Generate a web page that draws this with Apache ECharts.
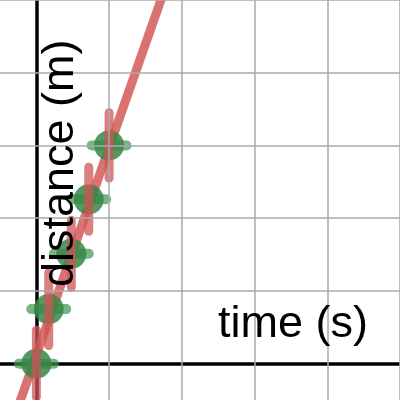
<!DOCTYPE html>
<html><head><meta charset="utf-8">
<script src="https://cdn.jsdelivr.net/npm/echarts@6/dist/echarts.min.js"></script>
<style>html,body{margin:0;padding:0}#c{width:400px;height:400px}</style>
</head><body><div id="c"></div>
<script>
const timeVals = [0, 0.17, 0.48, 0.72, 1.0];
const distVals = [0, 0.75, 1.51, 2.26, 3.0];
const yErr = [0.46, 0.5, 0.46, 0.44, 0.45];
const xErr = [0.24, 0.24, 0.24, 0.24, 0.24];
const fitLineX = [-0.5, 2.0];
const fitLineY = [-1.305, 5.82];
const gridTicks = [1, 2, 3, 4, 5];

const chart = echarts.init(document.getElementById('c'));
const pts = timeVals.map((x, i) => [x, distVals[i], xErr[i], yErr[i]]);
const gl = {color: '#aaaaaa', width: 1.5, type: 'solid'};
chart.setOption({
  animation: false,
  grid: {left: 0, right: 0, top: 0, bottom: 0},
  xAxis: {type: 'value', min: -0.5, max: 5, axisLabel: {show: false}, axisTick: {show: false}, splitLine: {show: false},
    axisLine: {onZero: true, lineStyle: {color: '#000', width: 3.5}}},
  yAxis: {type: 'value', min: -0.5, max: 5, axisLabel: {show: false}, axisTick: {show: false}, splitLine: {show: false},
    axisLine: {onZero: true, lineStyle: {color: '#000', width: 3.5}}},
  graphic: [
    {type: 'text', left: 218, top: 302, z: 100, style: {text: 'time (s)', font: '45px "Liberation Sans", Arial', fill: '#000'}},
    {type: 'text', x: 38, y: 287, rotation: Math.PI / 2, z: 100, style: {text: 'distance (m)', font: '45px "Liberation Sans", Arial', fill: '#000', textVerticalAlign: 'top'}}
  ],
  series: [
    {type: 'line', data: [], silent: true, z: 1,
      markLine: {symbol: 'none', silent: true, label: {show: false}, lineStyle: gl,
        data: gridTicks.map(v => ({xAxis: v})).concat(gridTicks.map(v => ({yAxis: v})))}},
    {type: 'line', data: fitLineX.map((x, i) => [x, fitLineY[i]]), showSymbol: false, z: 3,
      lineStyle: {color: 'rgba(210,90,90,0.85)', width: 9}},
    {type: 'custom', z: 4, data: pts,
      renderItem: (params, api) => {
        const x = api.value(0), y = api.value(1), ex = api.value(2), ey = api.value(3);
        const a = api.coord([x, y - ey]), b = api.coord([x, y + ey]);
        const c = api.coord([x - ex, y]), d = api.coord([x + ex, y]);
        return {type: 'group', children: [
          {type: 'line', shape: {x1: c[0], y1: c[1], x2: d[0], y2: d[1]}, style: {stroke: 'rgba(60,150,75,0.7)', lineWidth: 10, lineCap: 'round'}},
          {type: 'circle', shape: {cx: c[0] / 2 + d[0] / 2, cy: c[1], r: 15}, style: {fill: 'rgba(55,135,70,0.85)'}},
          {type: 'line', shape: {x1: a[0], y1: a[1], x2: b[0], y2: b[1]}, style: {stroke: 'rgba(205,85,85,0.75)', lineWidth: 9, lineCap: 'round'}}
        ]};
      }}
  ]
});
</script></body></html>
